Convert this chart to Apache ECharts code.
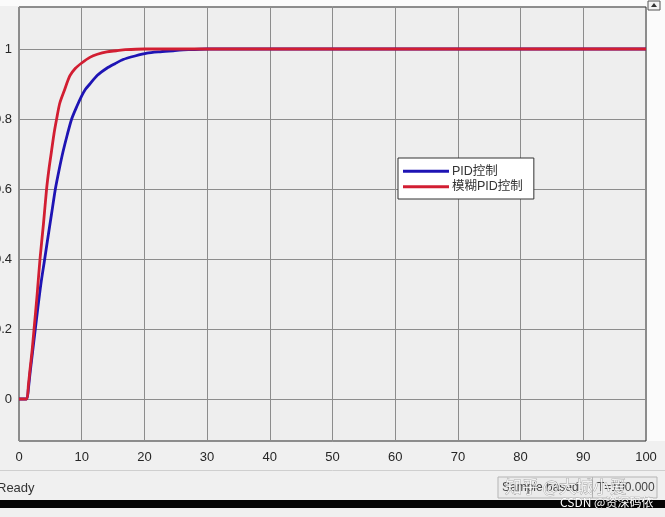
<!DOCTYPE html>
<html>
<head>
<meta charset="utf-8">
<script src="https://cdn.jsdelivr.net/npm/echarts@6/dist/echarts.min.js"></script>
<style>html,body{margin:0;padding:0;background:#f0f0f0;}#c{width:665px;height:517px;}</style>
</head>
<body>
<div id="c"></div>
<script>
// ---- data ----
const seriesNames = ['PID控制', '模糊PID控制'];
const pidT = [0, 1.2, 1.5, 1.8, 2.2, 2.6, 3.0, 3.5, 4.1, 4.6, 5.2, 5.8, 6.4, 7.0, 7.7, 8.4, 9.2, 10, 10.6, 11.3, 12.5, 14, 15.3, 16.6, 18.5, 20.4, 22.5, 24.6, 27, 30, 100];
const pidY = [0, 0, 0.03, 0.08, 0.14, 0.2, 0.26, 0.33, 0.4, 0.46, 0.53, 0.6, 0.655, 0.705, 0.755, 0.8, 0.835, 0.866, 0.885, 0.9, 0.925, 0.945, 0.958, 0.97, 0.98, 0.988, 0.992, 0.995, 0.998, 1, 1];
const fuzzyT = [0, 1.2, 1.5, 1.75, 2.1, 2.4, 2.9, 3.35, 3.9, 4.4, 4.8, 5.2, 5.6, 6.0, 6.5, 7.2, 8.1, 9, 10, 11.3, 12.5, 14, 15.5, 17, 20, 100];
const fuzzyY = [0, 0, 0.04, 0.083, 0.14, 0.2, 0.3, 0.4, 0.5, 0.6, 0.66, 0.71, 0.76, 0.8, 0.845, 0.88, 0.923, 0.945, 0.96, 0.976, 0.985, 0.992, 0.995, 0.998, 1, 1];
const xTicks = [0, 10, 20, 30, 40, 50, 60, 70, 80, 90, 100];
const yTicks = [0, 0.2, 0.4, 0.6, 0.8, 1];

const zip = (a, b) => a.map((v, i) => [v, b[i]]);

const chart = echarts.init(document.getElementById('c'), null, {renderer: 'canvas'});
chart.setOption({
  backgroundColor: '#f0f0f0',
  animation: false,
  grid: {left: 19, right: 19, top: 7, bottom: 76, containLabel: false, outerBoundsMode: 'none',
         show: true, backgroundColor: '#eeeeee', borderColor: '#2b2b2b', borderWidth: 1},
  xAxis: {
    type: 'value', min: 0, max: 100,
    axisLine: {show: false},
    axisTick: {show: false, customValues: xTicks},
    axisLabel: {color: '#262626', fontSize: 13, fontFamily: 'Liberation Sans, Arial', margin: 10, customValues: xTicks},
    splitLine: {show: true, lineStyle: {color: '#8c8c8c', width: 1}}
  },
  yAxis: {
    type: 'value', min: -0.12, max: 1.12,
    axisLine: {show: false},
    axisTick: {show: false, customValues: yTicks},
    axisLabel: {color: '#262626', fontSize: 13, fontFamily: 'Liberation Sans, Arial', margin: 7, customValues: yTicks, formatter: v => String(Math.round(v * 10) / 10)},
    splitLine: {show: true, lineStyle: {color: '#8c8c8c', width: 1}}
  },
  legend: {
    orient: 'vertical', left: 398, top: 158,
    data: seriesNames.map(n => ({name: n, icon: 'rect'})),
    itemWidth: 46, itemHeight: 3, itemGap: 3,
    padding: [7, 11, 6, 5],
    backgroundColor: '#ffffff', borderColor: '#333333', borderWidth: 1,
    textStyle: {color: '#333', fontSize: 12.5, fontFamily: 'Liberation Sans, Noto Sans CJK SC', padding: [0, 0, 0, -2]}
  },
  series: [
    {name: seriesNames[0], type: 'line', data: zip(pidT, pidY), showSymbol: false, symbol: 'none', smooth: 0.25,
     color: '#1e14b4', lineStyle: {color: '#1e14b4', width: 2.8, join: 'round'}},
    {name: seriesNames[1], type: 'line', data: zip(fuzzyT, fuzzyY), showSymbol: false, symbol: 'none', smooth: 0.25,
     color: '#d21e32', lineStyle: {color: '#d21e32', width: 2.8, join: 'round'}}
  ],
  graphic: [
    {type: 'rect', z: 1, shape: {x: 0, y: 0, width: 665, height: 6}, style: {fill: '#fbfbfb'}},
    {type: 'rect', z: 1, shape: {x: 647, y: 0, width: 18, height: 441}, style: {fill: '#fbfbfb'}},
    {type: 'rect', z: 2, shape: {x: 648, y: 1, width: 12, height: 9}, style: {fill: '#f4f4f4', stroke: '#555', lineWidth: 1}},
    {type: 'polygon', z: 3, shape: {points: [[651, 7], [654, 3], [657, 7]]}, style: {fill: '#333'}},
    {type: 'line', z: 2, shape: {x1: 0, y1: 470.5, x2: 665, y2: 470.5}, style: {stroke: '#cfcfcf', lineWidth: 1}},
    {type: 'text', z: 5, x: -3, y: 488, style: {text: 'Ready', fill: '#333', fontSize: 13, fontFamily: 'Liberation Sans, Arial', verticalAlign: 'middle'}},
    {type: 'rect', z: 2, shape: {x: 498, y: 477, width: 159, height: 21}, style: {fill: '#ebebeb', stroke: '#b5b5b5', lineWidth: 1}},
    {type: 'line', z: 3, shape: {x1: 592.5, y1: 477, x2: 592.5, y2: 498}, style: {stroke: '#b5b5b5', lineWidth: 1}},
    {type: 'text', z: 5, x: 502, y: 488, style: {text: 'Sample based', fill: '#444', fontSize: 12, fontFamily: 'Liberation Sans, Arial', verticalAlign: 'middle'}},
    {type: 'text', z: 5, x: 597, y: 488, style: {text: 'T=100.000', fill: '#444', fontSize: 12, fontFamily: 'Liberation Sans, Arial', verticalAlign: 'middle'}},
    {type: 'text', z: 6, x: 505, y: 487, style: {text: '知乎 @大城小爱', fill: 'rgba(255,255,255,0.8)', stroke: 'rgba(80,80,80,0.55)', lineWidth: 0.7, fontSize: 17, fontFamily: 'Noto Sans CJK SC', verticalAlign: 'middle'}},
    {type: 'rect', z: 4, shape: {x: 0, y: 500, width: 665, height: 8}, style: {fill: '#050505'}},
    {type: 'text', z: 7, x: 560, y: 502, style: {text: 'CSDN @资深码侬', fill: '#ffffff', stroke: 'rgba(0,0,0,0.3)', lineWidth: 0.5, fontSize: 12, fontFamily: 'Noto Sans CJK SC', verticalAlign: 'middle'}}
  ]
});
</script>
</body>
</html>
